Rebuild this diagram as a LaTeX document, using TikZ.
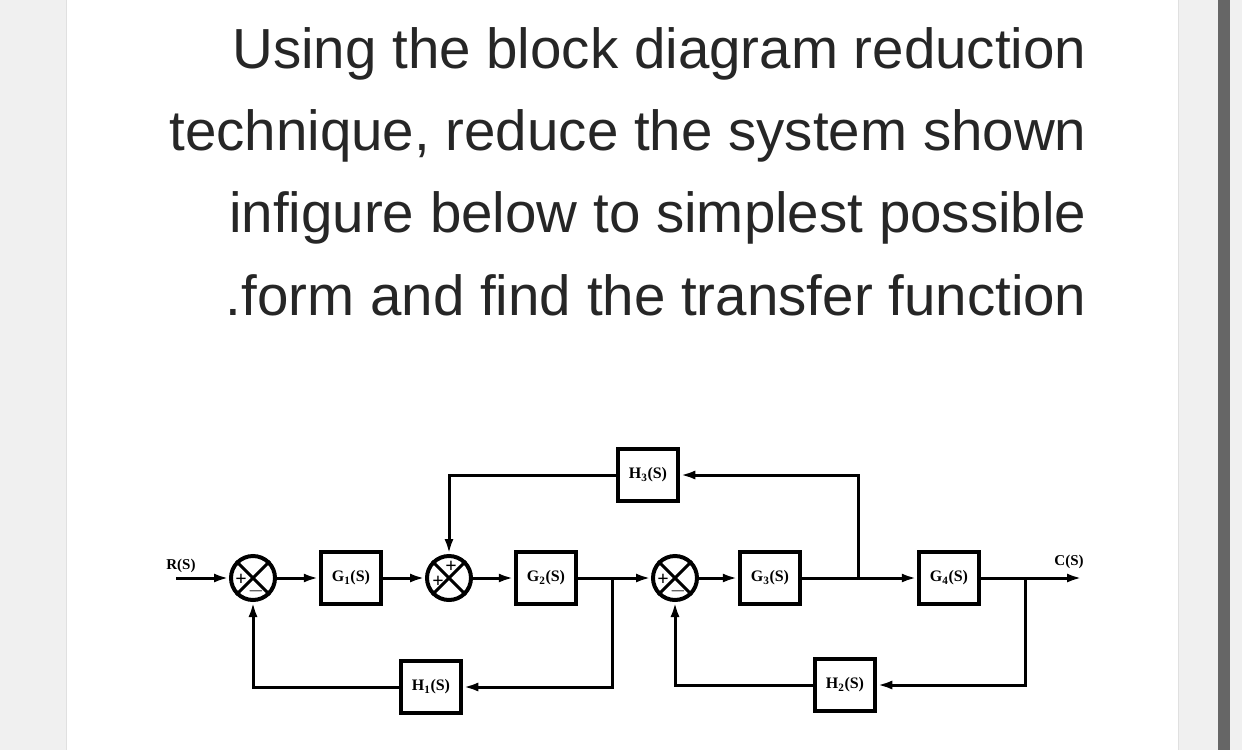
\documentclass[tikz,border=0pt]{standalone}
\usepackage{fontspec}
\setmainfont{Liberation Serif}
\newfontfamily\titlefont{Liberation Sans}
\usetikzlibrary{arrows.meta}
\begin{document}
\begin{tikzpicture}[x=1pt,y=-1pt,
  blk/.style={draw,line width=4.5pt,minimum width=60pt,minimum height=52pt,inner sep=0pt,font=\bfseries\fontsize{16}{16}\selectfont},
  sum/.style={draw,circle,line width=4pt,minimum size=44pt,inner sep=0pt},
  ln/.style={line width=3pt},
  ar/.style={ln,-{Latex[length=15pt,width=9pt]}},
  sg/.style={font=\bfseries\fontsize{20}{20}\selectfont,inner sep=0pt},
  ttl/.style={anchor=base east,font=\titlefont\fontsize{56.5}{56.5}\selectfont,text=black!85}]
\useasboundingbox (0,0) rectangle (1242,750);
\fill[black!6] (0,0) rectangle (1242,750);
\fill[white] (66,0) rectangle (1178,750);
\draw[black!12,line width=1pt] (66,0) -- (66,750) (1178,0) -- (1178,750);
\fill[black!60] (1218,0) rectangle (1230,750);
\node[ttl] (t1) at (1090,68) {Using the block diagram reduction};
\node[ttl] (t2) at (1090,150) {technique, reduce the system shown};
\node[ttl] (t3) at (1090,232) {infigure below to simplest possible};
\node[ttl] (t4) at (1090,315) {.form and find the transfer function};
% blocks
\node[blk] (g1) at (351,578) {G\textsubscript{1}(S)};
\node[blk] (g2) at (546,578) {G\textsubscript{2}(S)};
\node[blk] (g3) at (770,578) {G\textsubscript{3}(S)};
\node[blk] (g4) at (949,578) {G\textsubscript{4}(S)};
\node[blk] (h3) at (648,475) {H\textsubscript{3}(S)};
\node[blk] (h1) at (431,687) {H\textsubscript{1}(S)};
\node[blk] (h2) at (845,685) {H\textsubscript{2}(S)};
% summers
\foreach \n/\x in {s1/253,s2/449,s3/675}{
  \node[sum] (\n) at (\x,578) {};
  \draw[line width=3pt] (\n.45) -- (\n.225) (\n.135) -- (\n.-45);
}
\node[sg] at (241,580) {+};
\node[sg] at (256,591) {$-$};
\node[sg] at (438,582) {+};
\node[sg] at (451,567) {+};
\node[sg] at (663,580) {+};
\node[sg] at (678,591) {$-$};
% coordinates
\coordinate (rin) at (176,578);
\node[font=\bfseries\fontsize{15}{15}\selectfont] (rl) at (181,566) {R(S)};
\coordinate (b1) at (612,578);
\coordinate (b3) at (858,578);
\coordinate (b4) at (1025,578);
\coordinate (cout) at (1082,578);
\node[font=\bfseries\fontsize{15}{15}\selectfont] (cl) at (1069,562) {C(S)};
% forward path
\draw[ar] (rin) -- (s1);
\draw[ar] (s1) -- (g1);
\draw[ar] (g1) -- (s2);
\draw[ar] (s2) -- (g2);
\draw[ar] (g2.east) -- (b1) -- (s3);
\draw[ar] (s3) -- (g3);
\draw[ar] (g3.east) -- (b3) -- (g4);
\draw[ar] (g4.east) -- (b4) -- (cout);
% feedback
\draw[ar] (b3) |- (h3);
\draw[ar] (h3.west) -| (s2);
\draw[ar] (b1) |- (h1);
\draw[ar] (h1.west) -| (s1);
\draw[ar] (b4) |- (h2);
\draw[ar] (h2.west) -| (s3);
\end{tikzpicture}
\end{document}
